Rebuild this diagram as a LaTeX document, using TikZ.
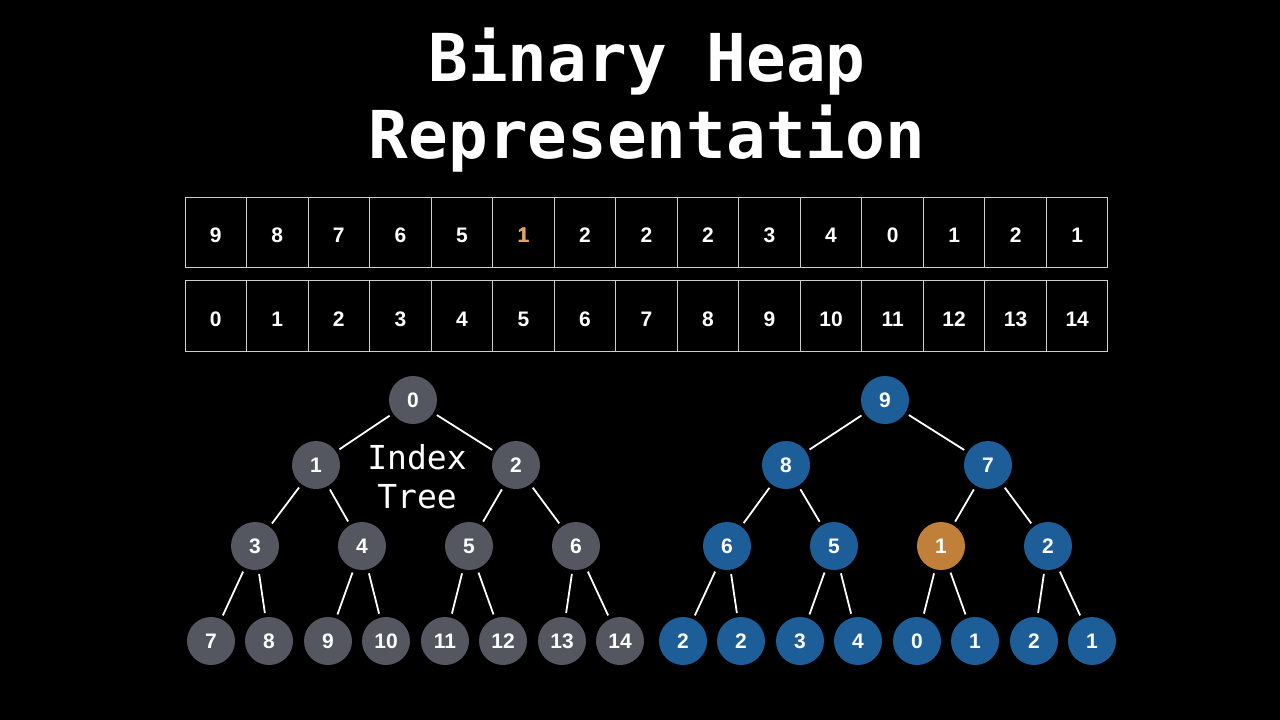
\documentclass[tikz,border=0pt]{standalone}
\usepackage{fontspec}
\setmainfont{Liberation Sans}
\newfontfamily\monofont{DejaVu Sans Mono}
\definecolor{igray}   {RGB}{84,87,95}
\definecolor{hblue}   {RGB}{30,94,152}
\definecolor{horange} {RGB}{192,128,58}
\definecolor{torange} {RGB}{232,160,92}
\definecolor{cellline}{RGB}{205,205,205}
\tikzset{
    cell/.style={draw=cellline, line width=1pt, minimum width=61.5pt,
             minimum height=70.5pt, inner sep=0pt, text=white,
             text height=20pt, text depth=0pt,
             font=\fontsize{21}{24}\selectfont\bfseries},
    idxnode/.style={circle, fill=igray, minimum size=48pt, inner sep=0pt,
             text=white, font=\fontsize{21}{24}\selectfont\bfseries},
    heapnode/.style={idxnode, fill=hblue},
    swapnode/.style={idxnode, fill=horange},
    edge/.style={draw=white, line width=1.8pt, shorten <=4pt, shorten >=4pt}
  }
\begin{document}
\begin{tikzpicture}[x=1pt, y=-1pt]
  % background
      \fill[black] (0,0) rectangle (1280,720);
      \useasboundingbox (0,0) rectangle (1280,720);
  % title
      \node[anchor=base, text=white, font=\monofont\bfseries\fontsize{66}{75}\selectfont] (title1) at (647,81) {Binary Heap};
      \node[anchor=base, text=white, font=\monofont\bfseries\fontsize{66}{75}\selectfont] (title2) at (647,158) {Representation};
  % value array
      \foreach \v [count=\i from 0] in {9,8,7,6,5,1,2,2,2,3,4,0,1,2,1}
        \node[cell] (val\i) at ({185+61.53*(\i+0.5)},232.5) {\v};
      \node[cell, text=torange] at (val5) {1};
  % index array
      \foreach \i in {0,...,14}
        \node[cell] (idx\i) at ({185+61.53*(\i+0.5)},316) {\i};
  % index tree
      \node[idxnode] (i0) at (413,400) {0};
      \node[idxnode] (i1) at (316,465) {1};
      \node[idxnode] (i2) at (516,465) {2};
      \node[idxnode] (i3) at (255,546) {3};
      \node[idxnode] (i4) at (362,546) {4};
      \node[idxnode] (i5) at (469,546) {5};
      \node[idxnode] (i6) at (576,546) {6};
      \foreach \i/\x in {7/211,8/269,9/328,10/386,11/445,12/503,13/562,14/620}
        \node[idxnode] (i\i) at (\x,641) {\i};
      \foreach \a/\b in {0/1,0/2,1/3,1/4,2/5,2/6,3/7,3/8,4/9,4/10,5/11,5/12,6/13,6/14}
        \draw[edge] (i\a) -- (i\b);
      \node[anchor=base, text=white, font=\monofont\fontsize{33}{39}\selectfont] (lbl1) at (417,469) {Index};
      \node[anchor=base, text=white, font=\monofont\fontsize{33}{39}\selectfont] (lbl2) at (417,508) {Tree};
  % heap tree
      \node[heapnode] (h0) at (885,400) {9};
      \node[heapnode] (h1) at (786,465) {8};
      \node[heapnode] (h2) at (988,465) {7};
      \node[heapnode] (h3) at (727,546) {6};
      \node[heapnode] (h4) at (834,546) {5};
      \node[swapnode] (h5) at (941,546) {1};
      \node[heapnode] (h6) at (1048,546) {2};
      \foreach \i/\x/\v in {7/683/2,8/741/2,9/800/3,10/858/4,11/917/0,12/975/1,13/1034/2,14/1092/1}
        \node[heapnode] (h\i) at (\x,641) {\v};
      \foreach \a/\b in {0/1,0/2,1/3,1/4,2/5,2/6,3/7,3/8,4/9,4/10,5/11,5/12,6/13,6/14}
        \draw[edge] (h\a) -- (h\b);
  \end{tikzpicture}
\end{document}
